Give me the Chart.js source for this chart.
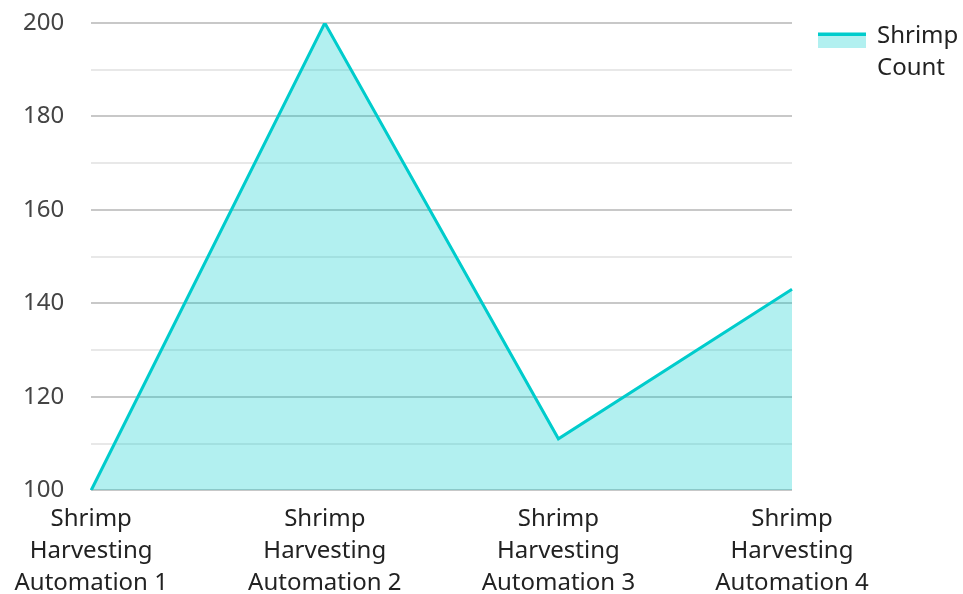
<!DOCTYPE html>
<html>
<head>
<meta charset="utf-8">
<script src="https://cdn.jsdelivr.net/npm/chart.js@4/dist/chart.umd.min.js"></script>
<style>
  html, body { margin: 0; padding: 0; background: #fff; }
  #wrap { width: 963px; height: 594px; position: relative; }
</style>
</head>
<body>
<div id="wrap"><canvas id="chart"></canvas></div>
<script>
// data
const categories = [
    ['Shrimp', 'Harvesting', 'Automation 1'],
    ['Shrimp', 'Harvesting', 'Automation 2'],
    ['Shrimp', 'Harvesting', 'Automation 3'],
    ['Shrimp', 'Harvesting', 'Automation 4']
];
const shrimpCount = [100, 200, 111, 143];
const seriesLabel = ['Shrimp', 'Count'];
const yMin = 100;
const yMax = 200;

const lineColor = 'rgb(0, 204, 204)';
const fillColor = 'rgba(0, 204, 204, 0.3)';

Chart.defaults.font.family = '"Noto Sans", "Open Sans", sans-serif';
Chart.defaults.font.size = 24;
Chart.defaults.color = '#333';

// legend on the right: thick line on top of a filled box, label on two lines
const sideLegend = {
    id: 'sideLegend',
    afterDraw(chart) {
        const ctx = chart.ctx;
        const x = 818, y = 34;
        ctx.save();
        ctx.fillStyle = fillColor;
        ctx.fillRect(x, y, 48, 14);
        ctx.fillStyle = lineColor;
        ctx.fillRect(x, y - 1.5, 48, 3.5);
        ctx.fillStyle = '#222';
        ctx.font = '24px "Noto Sans", "Open Sans", sans-serif';
        ctx.textBaseline = 'middle';
        seriesLabel.forEach((t, i) => ctx.fillText(t, 877, 36 + i * 32));
        ctx.restore();
    }
};

new Chart(document.getElementById('chart'), {
    type: 'line',
    data: {
        labels: categories,
        datasets: [{
            label: seriesLabel.join(' '),
            data: shrimpCount,
            borderColor: lineColor,
            backgroundColor: fillColor,
            borderWidth: 3,
            fill: 'origin',
            tension: 0,
            pointRadius: 0,
            pointHoverRadius: 0
        }]
    },
    plugins: [sideLegend],
    options: {
        responsive: true,
        maintainAspectRatio: false,
        animation: false,
        layout: { padding: { left: -4, right: 171, top: 23, bottom: -18 } },
        plugins: {
            tooltip: { enabled: false },
            legend: { display: false }
        },
        scales: {
            x: {
                grid: { display: false, drawTicks: false },
                border: { display: false },
                afterFit: (s) => { s.paddingTop = 0; },
                ticks: {
                    padding: 13, maxRotation: 0, autoSkip: false, color: '#222',
                    font: { size: 24, lineHeight: 1.33 }
                }
            },
            y: {
                min: yMin,
                max: yMax,
                afterFit: (s) => { s.paddingTop = 0; s.paddingBottom = 0; },
                grid: {
                    drawTicks: false,
                    lineWidth: 2,
                    color: (c) => (c.tick && c.tick.value % 20 === 0) ? '#c8c8c8' : '#e8e8e8'
                },
                border: { display: false },
                ticks: {
                    stepSize: 10,
                    padding: 27,
                    color: '#444',
                    font: { size: 24 },
                    callback: (v) => v % 20 === 0 ? v : ''
                }
            }
        }
    }
});
</script>
</body>
</html>
